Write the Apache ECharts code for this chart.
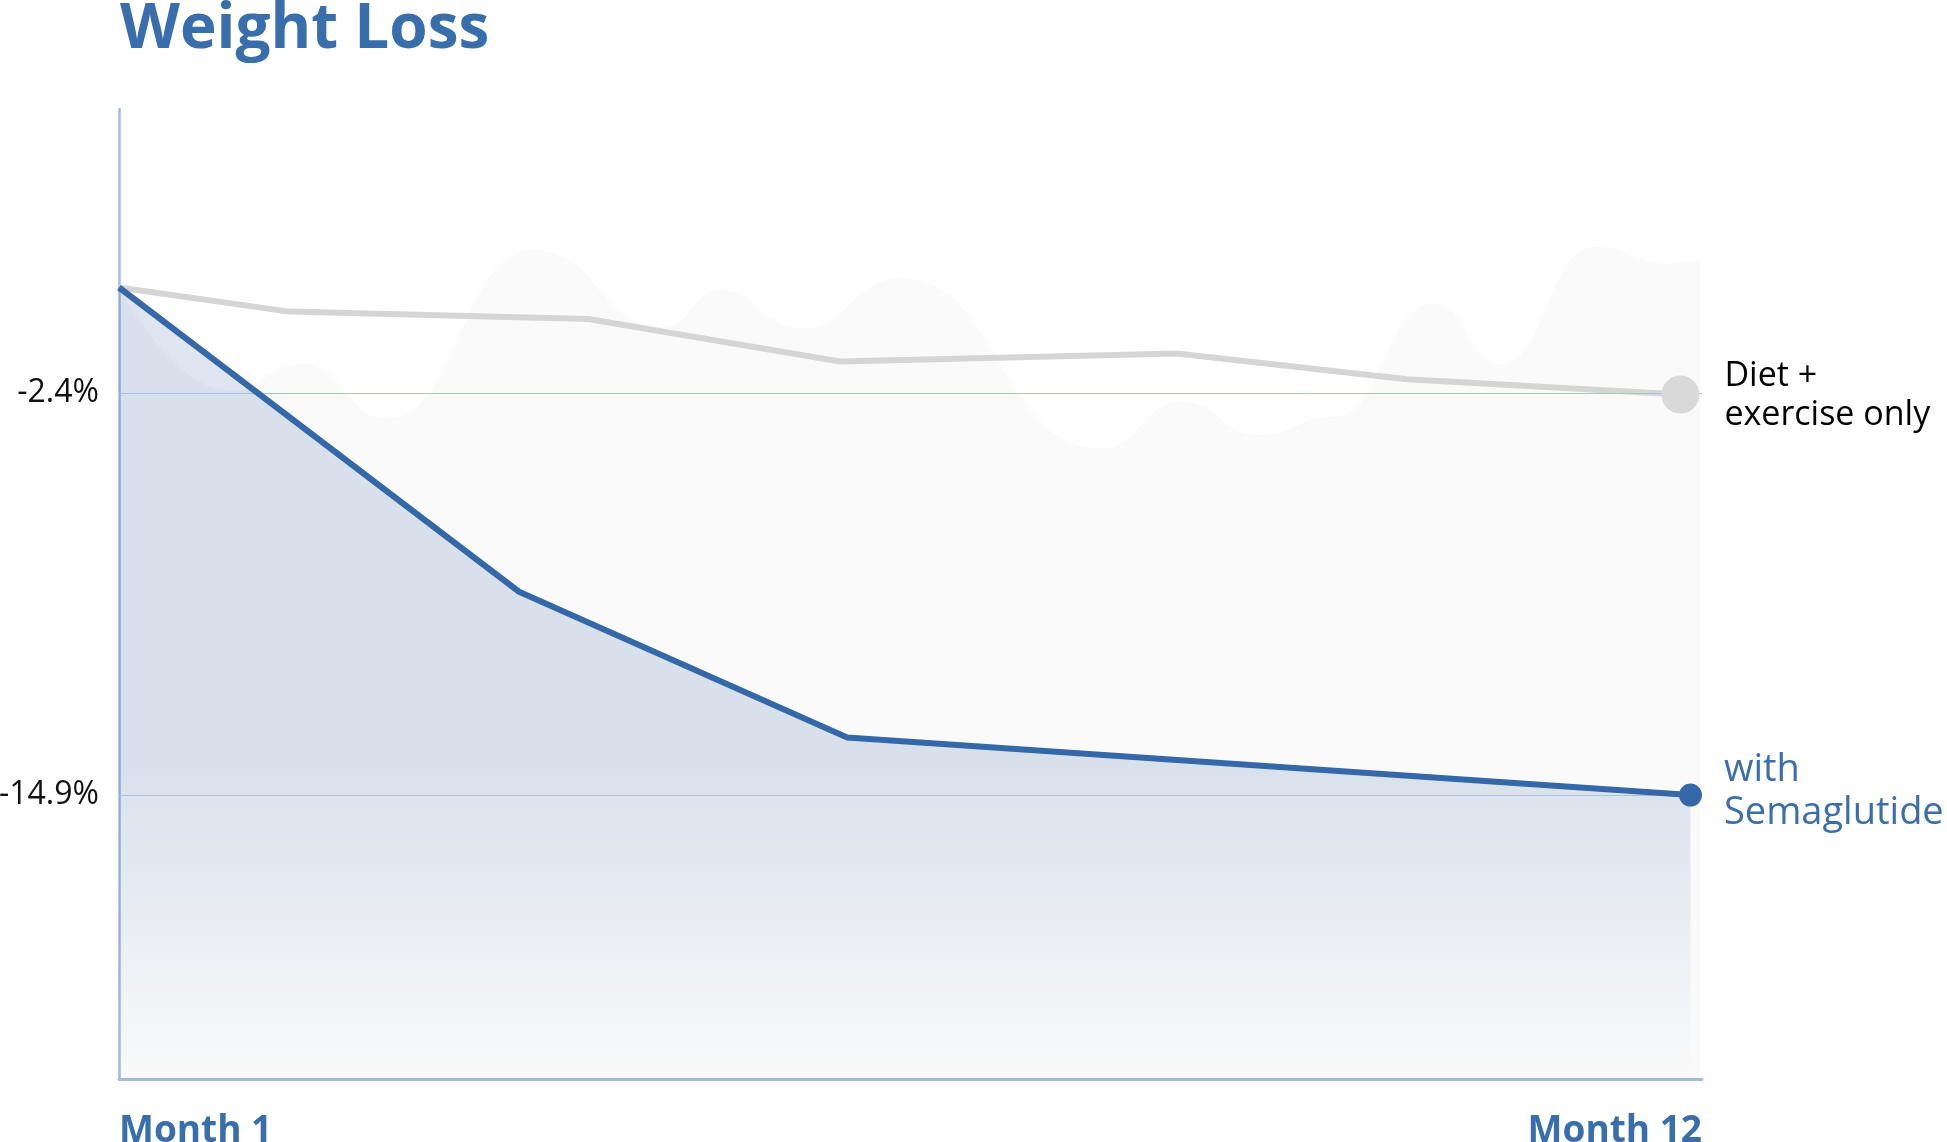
<!DOCTYPE html>
<html>
<head>
<meta charset="utf-8">
<style>
  html, body { margin: 0; padding: 0; background: #ffffff; }
  #chart { width: 1947px; height: 1142px; }
</style>
<script src="https://cdn.jsdelivr.net/npm/echarts@6/dist/echarts.min.js"></script>
</head>
<body>
<div id="chart"></div>
<script>
// ---- data ----
const chartTitle = 'Weight Loss';
const monthTicks = [1, 12];
const percentTicks = [-2.4, -14.9];

const dietMonths = [1.0, 2.18, 4.26, 6.01, 8.35, 9.95, 11.85];
const dietValues = [0.88, 0.13, -0.10, -1.42, -1.17, -1.97, -2.45];

const semaMonths = [1.0, 3.78, 6.06, 11.92];
const semaValues = [0.88, -8.58, -13.11, -14.9];

// decorative background wave (peaks and troughs)
const waveMonths = [1.0, 1.76, 2.28, 2.86, 3.88, 4.78, 5.18, 5.74, 6.43, 7.82, 8.38, 8.93, 9.44, 10.14, 10.60, 11.25, 11.76, 11.99];
const waveValues = [0.88, -2.31, -1.48, -3.19, 2.05, -0.34, 0.80, -0.39, 1.17, -4.12, -2.67, -3.71, -3.14, 0.39, -1.48, 2.15, 1.63, 1.74];

const dietLabel = 'Diet +\nexercise only';
const semaLabel = 'with\nSemaglutide';

// ---- build ----
const zip = (xs, ys) => xs.map((x, i) => [x, ys[i]]);
const dietData = zip(dietMonths, dietValues);
const semaData = zip(semaMonths, semaValues);
const waveData = zip(waveMonths, waveValues);

const BLUE = '#3468a8';
const TEXT_BLUE = '#376eab';
const FONT = '"Open Sans", "Noto Sans", sans-serif';

const chart = echarts.init(document.getElementById('chart'), null, { renderer: 'canvas' });

const option = {
  animation: false,
  backgroundColor: '#ffffff',
  title: {
    text: chartTitle,
    left: 120,
    top: -1,
    padding: 0,
    textStyle: { fontFamily: FONT, fontWeight: 'bold', fontSize: 62, color: TEXT_BLUE }
  },
  grid: { left: 119, right: 245, top: 109, bottom: 63, containLabel: false, outerBoundsMode: 'none' },
  xAxis: {
    type: 'value',
    min: 1,
    max: 12,
    axisLine: { show: true, onZero: false, lineStyle: { color: '#a0bde2', width: 3 } },
    axisTick: { show: false },
    splitLine: { show: false },
    axisLabel: {
      customValues: monthTicks,
      formatter: v => 'Month ' + v,
      fontFamily: FONT,
      fontWeight: 'bold',
      fontSize: 37,
      color: TEXT_BLUE,
      margin: 34,
      alignMinLabel: 'left',
      alignMaxLabel: 'right'
    }
  },
  yAxis: {
    type: 'value',
    min: -23.73,
    max: 6.43,
    axisLine: { show: true, onZero: false, lineStyle: { color: '#a0bde2', width: 2.5 } },
    axisTick: { show: false },
    splitLine: { show: false },
    axisLabel: {
      customValues: percentTicks,
      formatter: v => v + '%',
      fontFamily: FONT,
      fontSize: 32,
      color: '#111111',
      margin: 20
    }
  },
  series: [
    {
      name: 'semaArea',
      type: 'line',
      data: semaData,
      showSymbol: false,
      silent: true,
      z: 1,
      lineStyle: { width: 0 },
      areaStyle: {
        origin: 'start',
        opacity: 1,
        color: new echarts.graphic.LinearGradient(0, 0, 0, 1, [
          { offset: 0, color: 'rgba(52,104,168,0.17)' },
          { offset: 0.6, color: 'rgba(52,104,168,0.17)' },
          { offset: 1, color: 'rgba(52,104,168,0.0)' }
        ])
      }
    },
    {
      name: 'wave',
      type: 'line',
      data: waveData,
      smooth: 0.5,
      smoothMonotone: 'x',
      showSymbol: false,
      silent: true,
      z: 2,
      lineStyle: { width: 0 },
      areaStyle: { origin: 'start', opacity: 1, color: 'rgba(0,0,0,0.02)' }
    },
    {
      name: 'Diet + exercise only',
      type: 'line',
      data: dietData,
      showSymbol: false,
      silent: true,
      z: 3,
      lineStyle: { color: '#d5d5d5', width: 6 }
    },
    {
      name: 'gridlines',
      type: 'line',
      data: [],
      z: 4,
      markLine: {
        silent: true,
        symbol: ['none', 'none'],
        label: { show: false },
        lineStyle: { color: '#a9c1e0', width: 1, type: 'solid', opacity: 1 },
        data: percentTicks.map(v => ({ yAxis: v }))
      }
    },
    {
      name: 'with Semaglutide',
      type: 'line',
      data: semaData,
      showSymbol: false,
      silent: true,
      z: 5,
      lineStyle: { color: BLUE, width: 6 }
    },
    {
      name: 'endpoints',
      type: 'scatter',
      silent: true,
      z: 6,
      itemStyle: { opacity: 1 },
      data: [
        {
          value: dietData[dietData.length - 1],
          symbolSize: 38,
          itemStyle: { color: '#d9d9d9', opacity: 1 },
          label: {
            show: true, position: 'right', distance: 25, offset: [0, 1],
            formatter: dietLabel, fontFamily: FONT, fontSize: 34, lineHeight: 39, color: '#000000'
          }
        },
        {
          value: semaData[semaData.length - 1],
          symbolSize: 23,
          itemStyle: { color: BLUE, opacity: 1 },
          label: {
            show: true, position: 'right', distance: 22, offset: [0, -3],
            formatter: semaLabel, fontFamily: FONT, fontSize: 38, lineHeight: 43, color: '#3a6ead'
          }
        }
      ]
    }
  ]
};

chart.setOption(option);
</script>
</body>
</html>
